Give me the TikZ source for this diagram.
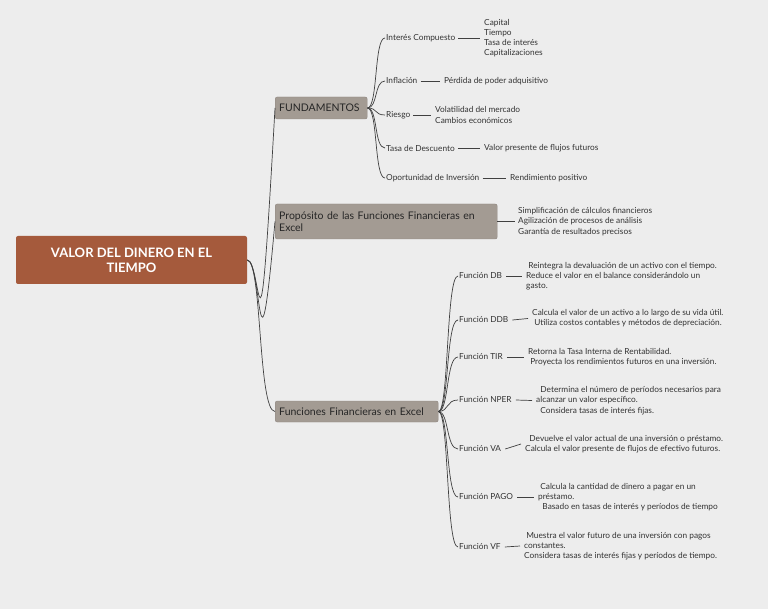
\documentclass[tikz,border=0pt]{standalone}
\usepackage{fontspec}
\setmainfont{Lato}
\begin{document}
\begin{tikzpicture}[x=1pt,y=-1pt,
 leaf/.style={font=\fontsize{8.3}{10.2}\selectfont,text=black!80,align=left,anchor=west,inner sep=1pt},
 sub/.style={leaf},
 box/.style={fill=boxc,draw=boxd,rounded corners=2pt,font=\fontsize{10.5}{12}\selectfont,text=black!85,anchor=west,align=left,inner sep=0pt},
 ln/.style={draw=black!75,line width=0.7pt}]
\definecolor{bg}{HTML}{EDEDED}
\definecolor{boxc}{HTML}{A39B93}
\definecolor{boxd}{HTML}{8F8780}
\definecolor{rootc}{HTML}{A55A3C}
\fill[bg] (0,0) rectangle (768,609);
\useasboundingbox (0,0) rectangle (768,609);
% root
\node[fill=rootc,rounded corners=2pt,minimum width=231pt,minimum height=48pt,text=white,font=\bfseries\fontsize{13}{15}\selectfont,align=center] (root) at (131.5,260) {VALOR DEL DINERO EN EL\\TIEMPO};
% boxes
\node[box,minimum width=92pt,minimum height=22pt,text width=84pt,inner xsep=4pt] (f) at (275,108) {FUNDAMENTOS};
\node[box,minimum width=222pt,minimum height=35pt,text width=214pt,inner xsep=4pt] (p) at (275,221.5) {Propósito de las Funciones Financieras en\\Excel};
\node[box,minimum width=163pt,minimum height=21pt,text width=155pt,inner xsep=4pt] (e) at (275,411.5) {Funciones Financieras en Excel};
\foreach \t in {f,p,e}{\draw[ln] (root.east) .. controls (262,260) and (258,\ifx\t f108\else\ifx\t p221.5\else 411.5\fi\fi) .. (\t.west);}
% fundamentos children
\node[sub] (ic) at (385,38) {Interés Compuesto};
\node[sub] (in) at (385,81) {Inflación};
\node[sub] (ri) at (385,115) {Riesgo};
\node[sub] (td) at (385,148) {Tasa de Descuento};
\node[sub] (oi) at (385,178) {Oportunidad de Inversión};
\foreach \n/\y in {ic/38,in/81,ri/115,td/148,oi/178}{\draw[ln] (f.east) .. controls (378,108) and (374,\y) .. (\n.west);}
\node[leaf] (l1) at (483,38) {Capital\\Tiempo\\Tasa de interés\\Capitalizaciones};
\node[leaf] (l2) at (443,81) {Pérdida de poder adquisitivo};
\node[leaf] (l3) at (434,115) {Volatilidad del mercado\\Cambios económicos};
\node[leaf] (l4) at (483,148) {Valor presente de flujos futuros};
\node[leaf] (l5) at (509,178) {Rendimiento positivo};
\draw[ln] ([xshift=2pt]ic.east) -- ([xshift=-3pt]l1.west);
\draw[ln] ([xshift=2pt]in.east) -- ([xshift=-3pt]l2.west);
\draw[ln] ([xshift=2pt]ri.east) -- ([xshift=-3pt]l3.west);
\draw[ln] ([xshift=2pt]td.east) -- ([xshift=-3pt]l4.west);
\draw[ln] ([xshift=2pt]oi.east) -- ([xshift=-3pt]l5.west);
\node[leaf] (pl) at (517,221.5) {Simplificación de cálculos financieros\\Agilización de procesos de análisis\\Garantía de resultados precisos};
\draw[ln] (p.east) -- ([xshift=-2pt]pl.west);
% excel children
\foreach \n/\t/\y in {db/Función DB/276,ddb/Función DDB/320,tir/Función TIR/357,np/Función NPER/400,va/Función VA/449,pa/Función PAGO/497,vf/Función VF/547}{
 \node[sub] (\n) at (458,\y) {\t};
 \draw[ln] (e.east) .. controls (449,411.5) and (446,\y) .. (\n.west);}
\node[leaf] (d1) at (525,276) {~Reintegra la devaluación de un activo con el tiempo.\\Reduce el valor en el balance considerándolo un\\gasto.};
\node[leaf] (d2) at (531,318.5) {Calcula el valor de un activo a lo largo de su vida útil.\\~Utiliza costos contables y métodos de depreciación.};
\node[leaf] (d3) at (527,357) {Retorna la Tasa Interna de Rentabilidad.\\~Proyecta los rendimientos futuros en una inversión.};
\node[leaf] (d4) at (535,400.5) {~~Determina el número de períodos necesarios para\\alcanzar un valor específico.\\~~Considera tasas de interés fijas.};
\node[leaf] (d5) at (524,444) {~~Devuelve el valor actual de una inversión o préstamo.\\Calcula el valor presente de flujos de efectivo futuros.};
\node[leaf] (d6) at (537,497) {~Calcula la cantidad de dinero a pagar en un\\préstamo.\\~~Basado en tasas de interés y períodos de tiempo};
\node[leaf] (d7) at (523,546) {~Muestra el valor futuro de una inversión con pagos\\constantes.\\Considera tasas de interés fijas y períodos de tiempo.};
\foreach \a/\b in {db/d1,ddb/d2,tir/d3,np/d4,va/d5,pa/d6,vf/d7}{\draw[ln] ([xshift=3pt]\a.east) -- ([xshift=-3pt]\b.west);}
\end{tikzpicture}
\end{document}
